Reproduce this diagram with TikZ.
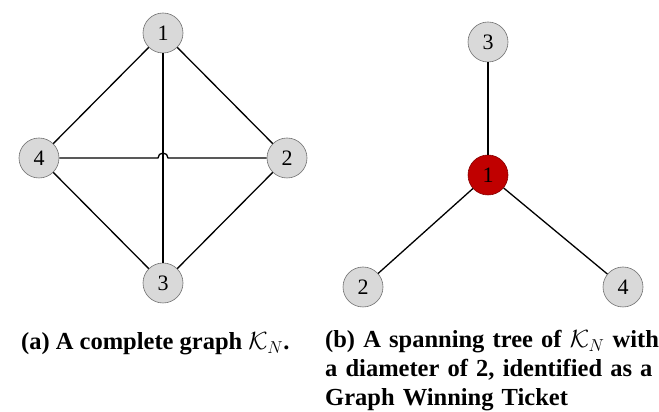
\documentclass[tikz,border=0pt]{standalone}
\usepackage{fontspec}
\setmainfont{Liberation Serif}
\usetikzlibrary{positioning}
\definecolor{vgray}{HTML}{D9D9D9}
\definecolor{vline}{HTML}{707070}
\definecolor{vred}{HTML}{C00000}
\tikzset{
vert/.style={
  circle,
  draw=vline,
  fill=vgray,
  line width=0.6pt,
  minimum size=40pt,
  inner sep=0pt,
  font=\fontsize{22}{22}\selectfont
  },
winner/.style={
  vert,
  draw=vred!70!black,
  fill=vred
  },
edge/.style={
  line width=1.3pt,
  black
  },
capt/.style={
  inner sep=0pt,
  align=left,
  font=\bfseries\fontsize{24.5}{29}\selectfont
  }
}

\begin{document}
\begin{tikzpicture}[x=1pt,y=1pt]
\useasboundingbox (0,0) rectangle (659,412);

\begin{scope}
\node[vert] (l1) at (163,379) {1};
\node[vert] (l2) at (287,254) {2};
\node[vert] (l3) at (163,129) {3};
\node[vert] (l4) at (39,254)  {4};

\coordinate (hop) at (l1 |- l4);

\draw[edge] (l1) -- (l4);
\draw[edge] (l1) -- (l2);
\draw[edge] (l4) -- (l3);
\draw[edge] (l2) -- (l3);
\draw[edge] (l1) -- (l3);
\draw[edge] (l4) -- ([xshift=-5pt]hop) arc[start angle=180,end angle=0,radius=5pt] -- (l2);
\end{scope}

\begin{scope}
\node[winner] (t1) at (488,237) {1};
\node[vert] (t2) at (363,125) {2};
\node[vert] (t3) at (488,370) {3};
\node[vert] (t4) at (623,125) {4};

\draw[edge] (t3) -- (t1);
\draw[edge] (t1) -- (t2);
\draw[edge] (t1) -- (t4);
\end{scope}

\node[capt,anchor=base west] (capa) at (21,62) {(a) A complete graph $\mathcal{K}_N$.};
\node[capt,anchor=base west,text width=340pt] (capb) at (325,64)
  {(b) A spanning tree of $\mathcal{K}_N$ with\\
   a diameter of 2, identified as a\\
   Graph Winning Ticket};

\end{tikzpicture}
\end{document}
